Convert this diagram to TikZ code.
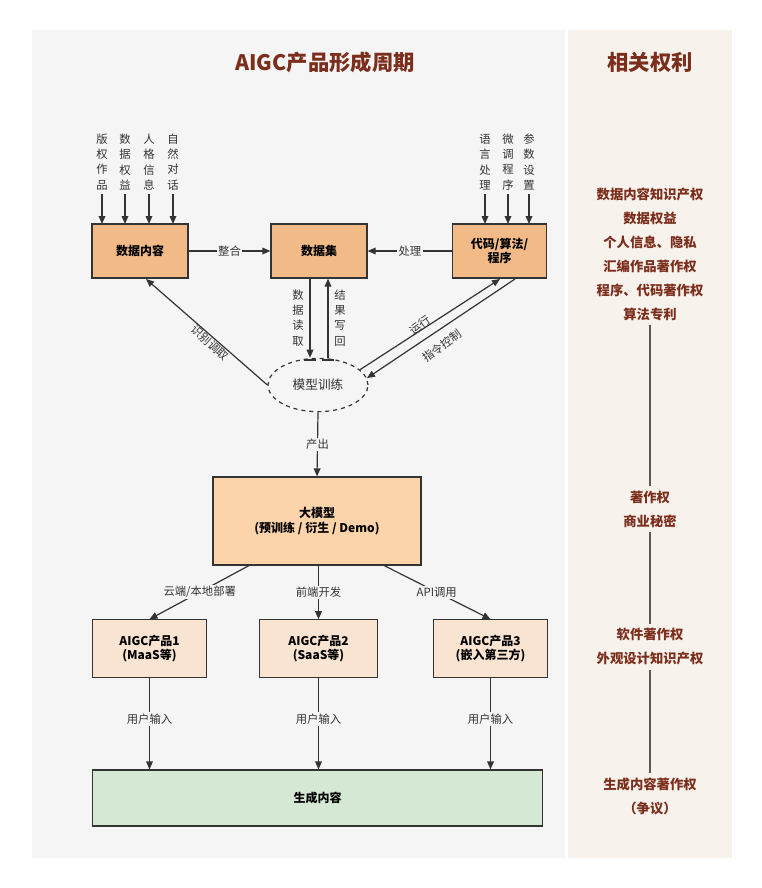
\documentclass[tikz,border=0pt]{standalone}
\usepackage{fontspec}
\setmainfont{Noto Sans CJK SC}
\usetikzlibrary{arrows.meta,shapes.geometric}
\definecolor{lbg}{HTML}{F5F5F5}
\definecolor{rbg}{HTML}{F8F2EC}
\definecolor{tred}{HTML}{7B2E1C}
\definecolor{orn}{HTML}{F2BA87}
\definecolor{big}{HTML}{FDD3A9}
\definecolor{prd}{HTML}{F9E4D1}
\definecolor{grn}{HTML}{D5E8D4}
\definecolor{ln}{HTML}{333333}
\begin{document}
\begin{tikzpicture}[x=0.75pt,y=-0.75pt,
 box/.style={draw=ln,line width=0.9pt,font=\bfseries\fontsize{9}{11}\selectfont,align=center,inner sep=0},
 arr/.style={-{Triangle[length=6pt,width=5pt]},draw=ln,line width=0.9pt},
 lab/.style={fill=lbg,font=\fontsize{8.5}{10}\selectfont,inner sep=1pt,text=ln},
 vt/.style={font=\fontsize{8.5}{11.5}\selectfont,align=center,text=ln,inner sep=0},
 dl/.style={font=\fontsize{8.5}{10}\selectfont,text=ln,inner sep=1pt},
 rt/.style={font=\bfseries\fontsize{10}{18}\selectfont,text=tred,align=center},
 rl/.style={draw=black!65,line width=1.4pt}]
\useasboundingbox (0,0) rectangle (761,888);
\fill[white] (0,0) rectangle (761,888);
\fill[lbg] (32,30) rectangle (565,858);
\fill[rbg] (568,30) rectangle (732,858);
\node[font=\bfseries\fontsize{16}{18}\selectfont,text=tred] (t1) at (325,62) {AIGC产品形成周期};
\node[font=\bfseries\fontsize{16}{18}\selectfont,text=tred] (t2) at (650,62) {相关权利};
% boxes
\node[box,fill=orn,minimum width=72pt,minimum height=40.5pt] (dc) at (140,251) {数据内容};
\node[box,fill=orn,minimum width=72pt,minimum height=40.5pt] (ds) at (319,251) {数据集};
\node[box,fill=orn,minimum width=70pt,minimum height=40.5pt] (cd) at (499.5,251) {代码/算法/\\程序};
\node[draw=ln,dashed,line width=0.9pt,ellipse,minimum width=75pt,minimum height=40pt,font=\fontsize{9.5}{11}\selectfont,text=ln] (mt) at (318,385) {模型训练};
\node[box,fill=big,minimum width=156pt,minimum height=66pt] (bm) at (317,521) {大模型\\(预训练 / 衍生 / Demo)};
\node[box,fill=prd,minimum width=86pt,minimum height=43pt] (p1) at (149.5,648.5) {AIGC产品1\\(MaaS等)};
\node[box,fill=prd,minimum width=88pt,minimum height=43pt] (p2) at (318.5,648.5) {AIGC产品2\\(SaaS等)};
\node[box,fill=prd,minimum width=86pt,minimum height=43pt] (p3) at (490.5,648.5) {AIGC产品3\\(嵌入第三方)};
\node[box,fill=grn,minimum width=338pt,minimum height=42pt] (gc) at (317.5,798) {生成内容};
% top inputs
\foreach \n/\x/\t in {i1/102/版\\权\\作\\品, i2/125/数\\据\\权\\益, i3/149/人\\格\\信\\息, i4/173/自\\然\\对\\话}{
 \node[vt] (\n) at (\x,162) {\t};
 \coordinate (\n e) at (\x,224);
 \draw[arr] (\n.south) ++(0,4) -- (\n e);}
\foreach \n/\x/\t in {j1/485/语\\言\\处\\理, j2/508/微\\调\\程\\序, j3/529/参\\数\\设\\置}{
 \node[vt] (\n) at (\x,162) {\t};
 \coordinate (\n e) at (\x,224);
 \draw[arr] (\n.south) ++(0,4) -- (\n e);}
% connectors
\draw[arr] (dc) -- node[lab]{整合} (ds);
\draw[arr] (cd) -- node[lab]{处理} (ds);
\draw[arr] (ds.south -| 310,0) -- (mt.north -| 310,0);
\draw[arr] (mt.north -| 328,0) -- (ds.south -| 328,0);
\draw[ln,line width=0.9pt] (304,360) -- (316,360) (322,360) -- (334,360);
\node[vt] (l1) at (298,318) {数\\据\\读\\取};
\node[vt] (l2) at (340,318) {结\\果\\写\\回};
\draw[arr] (mt.west) -- (146,279);
\node[dl,rotate=-42] (l3) at (210,343) {识别调取};
\draw[arr] (mt.20) -- (500,279);
\draw[arr] (515,279) -- (mt.8);
\node[dl,rotate=36] (l4) at (420,325) {运行};
\node[dl,rotate=36] (l5) at (442,346) {指令控制};
\draw[arr] (mt.south) -- node[lab]{产出} (bm.north);
\draw[arr] (250,565) -- node[lab]{云端/本地部署} (p1.north);
\draw[arr] (bm.south -| p2) -- node[lab]{前端开发} (p2.north);
\draw[arr] (383,565) -- node[lab]{API调用} (p3.north);
\draw[arr] (p1.south) -- node[lab,pos=0.45]{用户输入} (gc.north -| p1);
\draw[arr] (p2.south) -- node[lab,pos=0.45]{用户输入} (gc.north -| p2);
\draw[arr] (p3.south) -- node[lab,pos=0.45]{用户输入} (gc.north -| p3);
% right column
\node[rt] (r1) at (650,254) {数据内容知识产权\\数据权益\\个人信息、隐私\\汇编作品著作权\\程序、代码著作权\\算法专利};
\node[rt] (r2) at (650,509) {著作权\\商业秘密};
\node[rt] (r3) at (650,647) {软件著作权\\外观设计知识产权};
\node[rt] (r4) at (650,796) {生成内容著作权\\（争议）};
\draw[rl] (r1.south) -- (r2.north);
\draw[rl] (r2.south) -- (r3.north);
\draw[rl] (r3.south) -- (r4.north);
\end{tikzpicture}
\end{document}
